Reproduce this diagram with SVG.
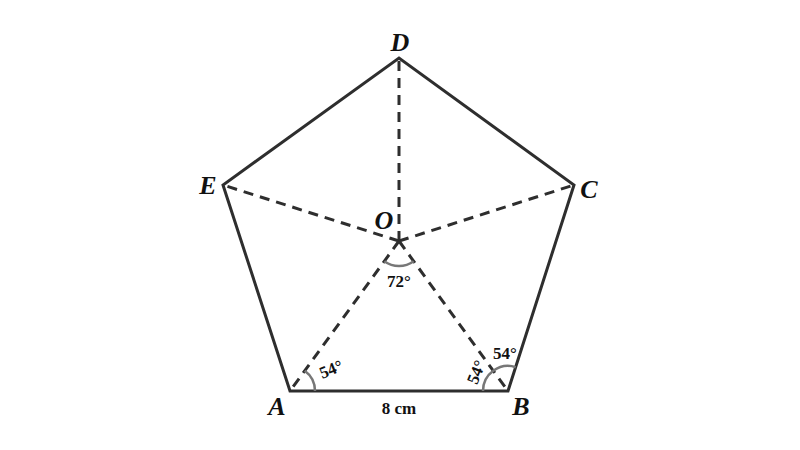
<svg xmlns="http://www.w3.org/2000/svg" width="800" height="450" viewBox="0 0 800 450">
<style>
.side{fill:none;stroke:#2e2e2e;stroke-width:3;stroke-linejoin:miter}
.dash{fill:none;stroke:#2e2e2e;stroke-width:3;stroke-dasharray:10 7}
.arc{fill:none;stroke:#777;stroke-width:2.5}
.pt{font-family:"Liberation Serif",serif;font-weight:bold;font-style:italic;font-size:26px;fill:#111;text-anchor:middle}
.lbl{font-family:"Liberation Serif",serif;font-weight:bold;font-size:17px;fill:#111;text-anchor:middle}
</style>
<rect width="800" height="450" fill="#fff"/>
<g id="connectors">
<polygon class="side" points="290,391 508,391 574,185 399,58 223,185"/>
<line class="dash" x1="399" y1="241" x2="399" y2="58"/>
<line class="dash" x1="399" y1="241" x2="223" y2="185"/>
<line class="dash" x1="399" y1="241" x2="574" y2="185"/>
<line class="dash" x1="399" y1="241" x2="290" y2="391"/>
<line class="dash" x1="399" y1="241" x2="508" y2="391"/>
<path class="arc" d="M315,391 A25,25 0 0 0 304.7,370.8"/>
<path class="arc" d="M483,391 A25,25 0 0 1 515.7,367.2"/>
<path class="arc" d="M384.3,261.2 A25,25 0 0 0 413.7,261.2"/>
</g>
<g id="D"><text class="pt" x="400" y="51">D</text></g>
<g id="E"><text class="pt" x="208" y="194">E</text></g>
<g id="C"><text class="pt" x="589" y="198">C</text></g>
<g id="O"><text class="pt" x="384" y="229">O</text></g>
<g id="A"><text class="pt" x="277" y="415">A</text></g>
<g id="B"><text class="pt" x="521" y="415">B</text></g>
<g id="labels">
<text class="lbl" x="399" y="414">8 cm</text>
<text class="lbl" x="399" y="287">72°</text>
<text class="lbl" x="331" y="375" transform="rotate(-22 331 369)">54°</text>
<text class="lbl" x="505" y="359">54°</text>
<text class="lbl" x="476" y="378" transform="rotate(-68 476 372)">54°</text>
</g>
</svg>
